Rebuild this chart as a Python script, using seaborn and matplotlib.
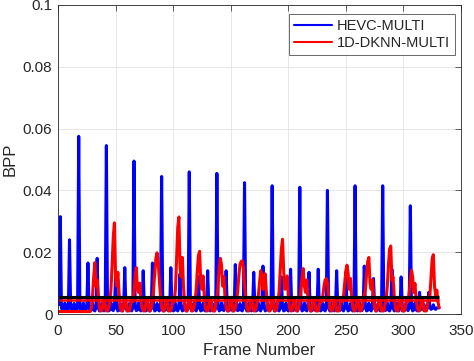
import numpy as np
import pandas as pd
import matplotlib
matplotlib.use('Agg')
import matplotlib.pyplot as plt
import seaborn as sns

# bits per pixel per frame (frames start at 1)
hevc_multi = [
	0.003,
	0.0315, 0.002, 0.001, 0.0013, 0.0035, 0.0014, 0.001, 0.002,
	0.024, 0.002, 0.001, 0.0012, 0.0034, 0.0015, 0.001, 0.002,
	0.0575, 0.0022, 0.001, 0.0013, 0.0036, 0.0014, 0.001, 0.0021,
	0.0165, 0.002, 0.0011, 0.0013, 0.0035, 0.0013, 0.001, 0.002,
	0.018, 0.0021, 0.001, 0.0012, 0.0034, 0.0014, 0.001, 0.002,
	0.0545, 0.0022, 0.001, 0.0013, 0.0036, 0.0015, 0.0011, 0.0021,
	0.012, 0.002, 0.001, 0.0012, 0.0035, 0.0014, 0.001, 0.002,
	0.015, 0.0021, 0.001, 0.0013, 0.0034, 0.0013, 0.001, 0.002,
	0.0495, 0.0022, 0.0011, 0.0013, 0.0036, 0.0014, 0.001, 0.0021,
	0.014, 0.002, 0.001, 0.0012, 0.0035, 0.0015, 0.001, 0.002,
	0.0165, 0.0021, 0.001, 0.0013, 0.0034, 0.0014, 0.001, 0.002,
	0.0445, 0.0022, 0.001, 0.0013, 0.0036, 0.0013, 0.0011, 0.0021,
	0.015, 0.002, 0.001, 0.0012, 0.0035, 0.0014, 0.001, 0.002,
	0.013, 0.0021, 0.001, 0.0013, 0.0034, 0.0015, 0.001, 0.002,
	0.046, 0.0022, 0.0011, 0.0013, 0.0036, 0.0014, 0.001, 0.0021,
	0.012, 0.002, 0.001, 0.0012, 0.0035, 0.0013, 0.001, 0.002,
	0.014, 0.0021, 0.001, 0.0013, 0.0034, 0.0014, 0.001, 0.002,
	0.0455, 0.0022, 0.001, 0.0013, 0.0036, 0.0015, 0.0011, 0.0021,
	0.014, 0.002, 0.001, 0.0012, 0.0035, 0.0014, 0.001, 0.002,
	0.016, 0.0021, 0.0011, 0.0013, 0.0034, 0.0013, 0.001, 0.002,
	0.0425, 0.0022, 0.001, 0.0013, 0.0036, 0.0014, 0.001, 0.0021,
	0.0135, 0.002, 0.001, 0.0012, 0.0035, 0.0015, 0.001, 0.002,
	0.0155, 0.0021, 0.001, 0.0013, 0.0034, 0.0014, 0.0011, 0.002,
	0.0415, 0.0022, 0.001, 0.0013, 0.0036, 0.0013, 0.001, 0.0021,
	0.012, 0.002, 0.001, 0.0012, 0.0035, 0.0014, 0.001, 0.002,
	0.0145, 0.0021, 0.0011, 0.0013, 0.0034, 0.0015, 0.001, 0.002,
	0.041, 0.0022, 0.001, 0.0013, 0.0036, 0.0014, 0.001, 0.0021,
	0.0135, 0.002, 0.001, 0.0012, 0.0035, 0.0013, 0.0011, 0.002,
	0.0145, 0.0021, 0.001, 0.0013, 0.0034, 0.0014, 0.001, 0.002,
	0.040, 0.0022, 0.001, 0.0013, 0.0036, 0.0015, 0.001, 0.0021,
	0.014, 0.002, 0.0011, 0.0012, 0.0035, 0.0014, 0.001, 0.002,
	0.0135, 0.0021, 0.001, 0.0013, 0.0034, 0.0013, 0.001, 0.002,
	0.0415, 0.0022, 0.001, 0.0013, 0.0036, 0.0014, 0.0011, 0.0021,
	0.0155, 0.002, 0.001, 0.0012, 0.0035, 0.0015, 0.001, 0.002,
	0.0115, 0.0021, 0.001, 0.0013, 0.0034, 0.0014, 0.001, 0.002,
	0.0415, 0.0022, 0.0011, 0.0013, 0.0036, 0.0013, 0.001, 0.0021,
	0.0145, 0.002, 0.001, 0.0012, 0.0035, 0.0014, 0.001, 0.002,
	0.012, 0.0021, 0.001, 0.0013, 0.0034, 0.0015, 0.0011, 0.002,
	0.035, 0.0022, 0.001, 0.0013, 0.0036, 0.0014, 0.001, 0.0021,
	0.007, 0.002, 0.0015, 0.0018, 0.003, 0.0018, 0.0015, 0.002,
	0.007, 0.002, 0.0015, 0.0018, 0.003, 0.0018, 0.0015, 0.002,
	0.002, 0.002,
]

dknn_multi = [
	0.0008, 0.0008, 0.0008, 0.0008, 0.0008, 0.0008, 0.0008, 0.0008, 0.0008, 0.0008,
	0.0008, 0.0008, 0.0008, 0.0008, 0.0008, 0.0008, 0.0008, 0.0008, 0.0008, 0.0008,
	0.0008, 0.0008, 0.0008, 0.0008, 0.0008, 0.0008, 0.0008, 0.0008,
	0.002, 0.006, 0.012, 0.0166, 0.009, 0.011, 0.006, 0.002, 0.001, 0.001, 0.003, 0.005, 0.003, 0.001, 0.001, 0.002, 0.004,
	0.008, 0.016, 0.025, 0.0295, 0.012, 0.009, 0.0135, 0.007, 0.002, 0.001, 0.001, 0.003, 0.005, 0.004, 0.001, 0.001, 0.001, 0.003, 0.005,
	0.004, 0.007, 0.012, 0.015, 0.008, 0.007, 0.010, 0.005, 0.002, 0.001, 0.001, 0.003, 0.005, 0.004, 0.001, 0.001, 0.002, 0.004,
	0.008, 0.013, 0.018, 0.0198, 0.017, 0.011, 0.006, 0.002, 0.001, 0.001, 0.003, 0.005, 0.004, 0.001, 0.001, 0.001, 0.003, 0.005, 0.004,
	0.008, 0.018, 0.028, 0.0314, 0.015, 0.012, 0.0183, 0.009, 0.003, 0.001, 0.001, 0.003, 0.005, 0.004, 0.001, 0.001, 0.002, 0.004,
	0.008, 0.014, 0.019, 0.0203, 0.010, 0.008, 0.0123, 0.006, 0.002, 0.001, 0.001, 0.003, 0.005, 0.004, 0.001, 0.001, 0.001, 0.003, 0.005,
	0.009, 0.015, 0.018, 0.016, 0.009, 0.012, 0.006, 0.002, 0.001, 0.001, 0.003, 0.005, 0.004, 0.001, 0.001, 0.002, 0.004, 0.007, 0.012,
	0.016, 0.017, 0.0172, 0.015, 0.010, 0.005, 0.002, 0.001, 0.001, 0.003, 0.005, 0.004, 0.001, 0.001, 0.002, 0.004,
	0.006, 0.010, 0.014, 0.013, 0.008, 0.010, 0.013, 0.007, 0.002, 0.001, 0.001, 0.003, 0.005, 0.004, 0.001, 0.001, 0.002, 0.004,
	0.007, 0.014, 0.021, 0.0242, 0.014, 0.008, 0.009, 0.0123, 0.006, 0.002, 0.001, 0.001, 0.003, 0.005, 0.004, 0.001, 0.001, 0.002, 0.004,
	0.008, 0.012, 0.0147, 0.009, 0.007, 0.011, 0.006, 0.002, 0.001, 0.001, 0.003, 0.005, 0.004, 0.001, 0.001, 0.001, 0.003, 0.005, 0.004,
	0.006, 0.009, 0.011, 0.0115, 0.010, 0.006, 0.002, 0.001, 0.001, 0.003, 0.005, 0.004, 0.001, 0.001, 0.001, 0.003, 0.005, 0.004, 0.006,
	0.010, 0.014, 0.0158, 0.013, 0.008, 0.0115, 0.006, 0.002, 0.001, 0.001, 0.003, 0.005, 0.004, 0.001, 0.001, 0.002, 0.004, 0.006, 0.008,
	0.013, 0.017, 0.0183, 0.010, 0.008, 0.011, 0.006, 0.002, 0.001, 0.001, 0.003, 0.005, 0.004, 0.001, 0.001, 0.001, 0.003, 0.005, 0.009,
	0.016, 0.021, 0.022, 0.011, 0.012, 0.006, 0.002, 0.001, 0.001, 0.003, 0.005, 0.004, 0.001, 0.001, 0.001, 0.003, 0.005, 0.004, 0.007,
	0.011, 0.0142, 0.012, 0.007, 0.0099, 0.005, 0.002, 0.001, 0.001, 0.003, 0.005, 0.004, 0.001, 0.001, 0.001, 0.003, 0.005, 0.006,
	0.012, 0.018, 0.0192, 0.009, 0.006, 0.0077, 0.004, 0.002,
]

# average lines drawn across the whole sequence
hevc_avg = 0.0056
dknn_avg = 0.0045

xticks = [0, 50, 100, 150, 200, 250, 300, 350]
yticks = [0, 0.02, 0.04, 0.06, 0.08, 0.1]
ytick_labels = ['0', '0.02', '0.04', '0.06', '0.08', '0.1']

frames = np.arange(1, len(hevc_multi) + 1)
df = pd.DataFrame({'Frame Number': frames, 'HEVC-MULTI': hevc_multi, '1D-DKNN-MULTI': dknn_multi})

sns.set_theme(style='white')
plt.rcParams['font.family'] = ['Liberation Sans', 'DejaVu Sans']

fig, ax = plt.subplots(figsize=(4.74, 3.61), dpi=100)
fig.subplots_adjust(left=58 / 474, right=461 / 474, bottom=47 / 361, top=1 - 5 / 361)

sns.lineplot(data=df, x='Frame Number', y='HEVC-MULTI', color='#0000ff', lw=2.2, label='HEVC-MULTI', ax=ax)
sns.lineplot(data=df, x='Frame Number', y='1D-DKNN-MULTI', color='#ff0000', lw=2.2, label='1D-DKNN-MULTI', ax=ax)
ax.hlines(dknn_avg, frames[0], frames[-1], color='#ff0000', lw=1.8, zorder=3)
ax.hlines(hevc_avg, frames[0], frames[-1], color='black', lw=2.2, zorder=4)

ax.set_xlim(0, 350)
ax.set_ylim(0, 0.1)
ax.set_xticks(xticks)
ax.set_yticks(yticks)
ax.set_yticklabels(ytick_labels)
ax.grid(True, color='#e3e3e3', lw=0.6)
ax.set_axisbelow(True)
for s in ax.spines.values():
	s.set_color('#262626')
	s.set_linewidth(0.6)
ax.tick_params(direction='in', length=4, width=0.5, color='#262626', labelcolor='#262626',
	labelsize=11, top=True, right=True)
ax.tick_params(axis='x', pad=7.5)
ax.tick_params(axis='y', pad=4)
ax.set_xlabel('Frame Number', fontsize=12, color='#262626', labelpad=3)
ax.set_ylabel('BPP', fontsize=12, color='#262626', labelpad=4)

leg = ax.legend(loc='upper right', bbox_to_anchor=(0.985, 0.97), fontsize=10.5, frameon=True,
	fancybox=False, edgecolor='#262626', handlelength=2.6, handletextpad=0.3, borderpad=0.35,
	labelspacing=0.2, borderaxespad=0)
leg.get_frame().set_linewidth(0.6)
for line in leg.get_lines():
	line.set_linewidth(1.5)

fig.savefig('out.png', dpi=100)
